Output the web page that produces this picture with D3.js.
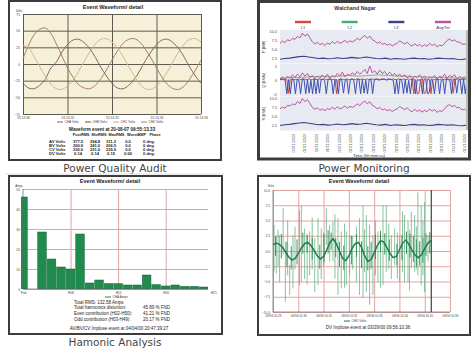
<!DOCTYPE html>
<html>
<head>
<meta charset="utf-8">
<script src="https://cdn.jsdelivr.net/npm/d3@7"></script>
<style>
  body { margin: 0; background: #fff; }
  svg { display: block; font-family: "Liberation Sans", Arial, sans-serif; }
  .cap { font-family: "DejaVu Sans", sans-serif; font-size: 10.5px; fill: #454545; }
  .tick text { fill: #444; }
</style>
</head>
<body>
<svg id="chart" width="474" height="351"></svg>
<script>

// ---- panel 1: three phase waveform (volts), 33 samples over 4 grid divisions
var waveA = [8, 28, 44, 52, 54, 46, 30, 12, -6, -20, -31, -36, -37, -32, -22, -9, 6, 20, 31, 37, 38, 33, 22, 9, -6, -20, -31, -37, -38, -33, -22, -9, 6]
var waveB = [-29, -36, -37, -32, -23, -6, 3, 18, 29, 36, 37, 32, 23, 10, -5, -18, -29, -36, -37, -32, -23, -10, 5, 18, 29, 36, 37, 32, 23, 10, -5, -18, -29]
var waveC = [28, 24, 11, -4, -18, -30, -37, -38, -33, -24, -11, 4, 18, 30, 37, 38, 33, 24, 11, -4, -18, -30, -37, -38, -33, -24, -11, 4, 18, 30, 37, 38, 33]
var waveTicks = ["55:13.30", "55:13.31", "55:13.32", "55:13.33", "55:13.34"]
var waveLegend = ["CHA Volts", "CHB Volts", "CHC Volts", "CHD Volts"]
var tableCols = ["PostRMS", "MinRMS", "MaxRMS", "WorstBMP", "Phase"]
var tableRows = ["AV Volts", "BV Volts", "CV Volts", "DV Volts"]
var tableVals = [
  ["377.5", "294.8", "311.2", "0.0", "0 deg."],
  ["200.9", "241.0", "206.5", "0.0", "0 deg."],
  ["230.0", "221.0", "235.9", "0.0", "0 deg."],
  ["0.14", "0.14", "0.15", "0.00", "0 deg."]
]

// ---- panel 2: power monitoring (P, Q, S)
var seriesNames = ["L1", "L2", "L3", "Avg/Tot"]
var pAvg = [6.6, 7.2, 6.8, 7.6, 7.3, 8.0, 7.7, 8.5, 8.1, 9.4, 8.6, 9.2, 8.1, 7.0, 6.4, 6.9, 6.2, 6.6, 6.0, 6.7, 6.3, 7.1, 6.5, 7.2, 6.6, 6.9, 7.4, 6.8, 7.3, 7.0,
  7.4, 8.0, 7.5, 8.3, 8.8, 8.0, 8.6, 7.6, 7.2, 6.6, 7.0, 6.3, 6.6, 6.1, 6.4, 5.9, 6.3, 6.6, 7.3, 6.8, 6.4, 6.9, 6.2, 5.8, 6.5, 5.9, 6.3, 5.7, 6.2, 5.8,
  6.6, 6.0, 6.4, 5.6, 6.1, 5.9, 6.6, 7.4, 7.8, 7.2, 7.6, 6.9, 7.0, 6.3, 6.5, 5.9]
var pL3 = [2.2, 2.4, 2.5, 2.7, 2.9, 3.0, 2.8, 2.6, 2.4, 2.5, 2.3, 2.4, 2.6, 2.4, 2.5, 2.7, 2.5, 2.6, 2.8, 2.6,
  2.4, 2.3, 2.5, 2.2, 2.4, 2.3, 2.2, 2.4, 2.5, 2.3, 2.4, 2.2, 2.3, 2.5, 2.4, 2.3, 2.4, 2.2, 2.1, 2.3]
var sAvg = [7.0, 7.5, 7.2, 8.0, 7.8, 8.4, 8.1, 9.0, 8.5, 9.9, 9.0, 9.6, 8.5, 7.4, 6.9, 7.3, 6.6, 7.0, 6.5, 7.1, 6.8, 7.5, 6.9, 7.6, 7.0, 7.3, 7.8, 7.2, 7.7, 7.4,
  7.8, 8.4, 7.9, 8.7, 9.2, 8.4, 9.0, 8.0, 7.6, 7.0, 7.4, 6.7, 7.0, 6.5, 6.8, 6.3, 6.7, 7.0, 7.7, 7.2, 6.8, 7.3, 6.6, 6.2, 6.9, 6.3, 6.7, 6.1, 6.6, 6.2,
  7.0, 6.4, 6.8, 6.0, 6.5, 6.3, 7.0, 7.8, 8.2, 7.6, 8.0, 7.3, 7.4, 6.7, 6.9, 6.3]
var sL3 = [2.4, 2.6, 2.7, 2.9, 3.1, 3.2, 3.0, 2.8, 2.6, 2.7, 2.5, 2.6, 2.8, 2.6, 2.7, 2.9, 2.7, 2.8, 3.0, 2.8,
  2.6, 2.5, 2.7, 2.4, 2.6, 2.5, 2.4, 2.6, 2.7, 2.5, 2.6, 2.4, 2.5, 2.7, 2.6, 2.5, 2.6, 2.4, 2.3, 2.5]
var qAvg = [0.2, 0.5, 0.1, 0.6, 0.3, 0.8, 0.4, 0.9, 0.5, 1.1, 0.6, 1.0, 0.4, 0.7, 0.2, 0.6, 0.3, 0.8, 0.4, 0.9, 0.3, 0.7, 0.5, 1.0, 0.6, 1.2, 0.5, 0.9, 0.7, 1.1,
  0.8, 1.3, 0.9, 1.2, 1.6, 1.0, 2.1, 1.1, 1.4, 0.9, 1.5, 1.0, 1.3, 0.8, 1.2, 0.7, 1.0, 0.6, 0.9, 0.5, 0.8, 0.3, 0.7, 0.2, 0.6, 0.4, 0.8, 0.3, 0.6, 0.1,
  0.5, 0.3, 0.7, 0.2, 0.6, 0.4, 0.9, 0.3, 0.7, 0.5, 0.8, 0.2, 0.6, 0.3, 0.5, 0.2]
var qL2 = [0.3, 0.4, 0.4, 0.5, 0.6, 0.5, 0.6, 0.7, 0.6, 0.7, 0.8, 0.7, 0.6, 0.6, 0.5, 0.5, 0.4, 0.4, 0.3, 0.3]
var qL3 = [
  0.1, 0.2, 0.1, 0.0, -2.0, 0.1, -2.0, 0.2, 0.1, -2.0,
  0.1, 0.0, -2.0, 0.2, 0.1, -2.0, 0.1, -1.9, 0.0, -2.0,
  0.2, -2.0, 0.1, -1.9, 0.1, 0.2, 0.0, -2.0, 0.1, 0.2,
  0.1, -2.0, 0.0, 0.1, -2.0, 0.2, 0.1, -1.9, 0.0, 0.1,
  -2.0, 0.1, 0.2, 0.0, -2.0, 0.1, 0.2, -2.0, 0.1, -1.9,
  0.0, -2.0, 0.1, 0.2, -2.0, 0.1, 0.2, 0.1, 0.0, 0.2,
  0.1, 0.2, 0.0, 0.1, 0.2, 0.1, 0.0, -2.0, 0.1, -2.0,
  0.2, 0.0, -2.0, 0.1, -1.9, 0.0, -2.0, 0.1, 0.2, -2.0,
  0.1, 0.0, 0.1, -2.0, 0.2, 0.1, -2.0, -1.8, 0.1, 0.0,
  -2.0, 0.1, 0.2, -2.0, 0.0, 0.1, -2.0, 0.2, 0.1, 0.0,
  -2.0, 0.1, 0.2, -1.9, 0.0, 0.1, -2.0, 0.2, -2.0, 0.1]
var qL1 = [
  0.1, 0.1, 0.2, 0.1, 0.1, -1.9, 0.1, 0.2, 0.1, 0.1,
  0.1, 0.2, 0.1, 0.1, 0.2, 0.1, 0.1, 0.2, 0.1, 0.1,
  0.2, 0.1, 0.1, 0.2, 0.1, 0.1, 0.2, 0.1, 0.1, 0.2,
  0.1, 0.1, 0.2, -2.0, 0.1, 0.1, 0.2, 0.1, 0.1, 0.2,
  0.1, 0.1, 0.2, 0.1, 0.1, 0.2, 0.1, 0.1, 0.2, 0.1,
  0.1, 0.2, 0.1, 0.1, 0.2, 0.1, 0.1, 0.2, 0.1, 0.1,
  0.2, 0.1, 0.1, 0.2, 0.1, 0.1, 0.2, 0.1, 0.1, 0.2,
  0.1, 0.1, 0.2, 0.1, 0.1, 0.2, 0.1, 0.1, -2.0, 0.1,
  -2.0, -1.9, 0.1, 0.2, -2.0, -1.8, 0.1, 0.2, -2.0, 0.1,
  0.1, 0.2, 0.1, 0.1, 0.2, 0.1, 0.1, 0.2, 0.1, 0.1,
  0.2, -1.9, 0.1, 0.1, 0.2, 0.1, 0.1, 0.2, 0.1, 0.1]
var timeTicks = ["02/22 10:00", "02/22 10:30", "02/22 11:00", "02/22 11:30", "02/22 12:00", "02/22 12:30", "02/22 13:00", "02/22 13:30",
  "02/22 14:00", "02/22 14:30", "02/22 15:00", "02/22 15:30", "02/22 16:00", "02/22 16:30", "02/22 17:00", "02/22 17:30"]

// ---- panel 3: harmonic spectrum (amps), H1..H20
var harmonics = d3.range(1, 21)
var harmAmps = [46, 0, 28.5, 15, 11, 10, 27.5, 3, 4.5, 2.7, 2.7, 2, 2, 7, 2.2, 1.5, 2, 1.3, 1.3, 1]
var harmTicks = [1, 6, 11, 16, 21]
var harmTickLabels = ["Fnd", "H06", "H11", "H16", "H21"]
var harmText = [
  ["Total RMS: 132.58 Amps", ""],
  ["Total harmonics distortion:", "45.89 % FND"],
  ["Even contribution (H02-H50):", "41.21 % FND"],
  ["Odd contribution (H03-H49):", "20.17 % FND"]
]

// ---- panel 4: DV impulse waveform (volts), base trace every 1/8 division + impulse spikes
var dvBase = [1.0, 1.3, 1.1, 0.6, -0.2, -1.0, -1.5, -1.2, -0.4, 0.5, 1.2, 1.4, 0.9, 0.1, -0.8, -1.3, -0.9, 0.2, 1.4, 2.0,
  1.2, 0.0, -1.2, -1.6, -0.8, 0.4, 1.2, 1.4, 0.6, -0.8, -1.7, -1.4, -0.3, 0.9, 1.7, 1.5, 0.6, -0.4, -1.1, -0.9,
  0.2, 1.3, 1.8, 1.1, 0.1, -0.7, -1.1, -0.6, 0.4, 1.3, 1.7]
var spikeT = [0.04, 0.13, 0.26, 0.40, 0.49, 0.66, 0.79, 1.05, 1.12, 1.25, 1.45, 1.65, 1.78, 1.91, 2.11, 2.24, 2.37, 2.57, 2.70, 2.90,
  3.03, 3.42, 3.56, 3.69, 3.82, 3.95, 4.15, 4.35, 4.48, 4.68, 4.81, 5.01, 5.20, 5.34, 5.47, 5.60, 5.73, 5.86, 5.99, 6.13,
  0.20, 0.58, 0.87, 1.35, 1.55, 2.00, 2.45, 2.83, 3.15, 3.30, 3.62, 4.05, 4.25, 4.58, 4.92, 5.12, 5.40, 5.67, 5.93]
var spikeHi = [4.3, 2.6, 2.6, 7.0, 1.5, -2.3, 2.6, 6.7, 7.5, 3.7, 3.2, 2.1, 5.4, 3.7, 7.0, 4.3, 4.8, 5.4, 3.2, 3.2,
  2.6, 5.4, 7.5, 5.9, 4.3, 2.6, 3.2, 7.5, 7.5, 2.6, 3.7, 2.6, 5.9, 4.8, 6.4, 5.9, 9.6, 7.5, 8.0, 2.6,
  3.5, 5.0, 4.0, 2.8, 5.5, 3.0, 6.0, 4.5, 2.5, 4.0, 3.5, 5.0, 3.0, 4.5, 3.0, 6.5, 3.5, 4.0, 5.0]
var spikeLo = [-3.4, -3.7, -5.1, -0.6, -8.3, -7.2, -6.1, -5.6, -5.1, -4.6, -4.0, -6.7, -5.6, -4.6, 1.0, -1.7, -1.7, -7.2, -6.1, -5.6,
  -4.0, -7.2, -7.7, -6.7, -8.8, -7.2, -5.1, -5.6, -3.4, -4.6, -2.3, -5.1, -5.1, -5.1, -2.8, -3.4, -4.0, -5.6, -6.7, -1.7,
  -2.5, -4.0, -3.0, -5.5, -3.0, -2.5, -4.5, -6.0, -3.0, -5.0, -3.5, -4.0, -6.0, -3.0, -4.5, -3.5, -6.5, -3.0, -4.0]
// short dark jitter around the base trace
var jitT = [0.10, 0.33, 0.55, 0.72, 0.95, 1.18, 1.35, 1.55, 1.85, 2.02, 2.18, 2.30, 2.48, 2.63, 2.80, 3.10, 3.30, 3.50, 3.75, 3.88,
  4.05, 4.25, 4.42, 4.60, 4.90, 5.10, 5.28, 5.42, 5.55, 5.67, 5.80, 5.93, 6.05, 6.20]
var jitHi = [2.4, 2.8, 1.5, 0.8, 1.9, 3.0, 2.6, 2.2, 1.0, 2.8, 3.4, 3.0, 2.1, 1.5, 0.9, 2.5, 2.8, 1.6, 0.8, 1.5,
  2.7, 3.3, 2.9, 1.9, 1.2, 2.6, 3.2, 2.8, 2.5, 1.9, 1.6, 2.2, 2.9, 3.1]
var jitLo = [-0.8, -1.2, -2.6, -3.0, -2.2, -0.5, -0.3, -1.4, -2.9, -1.8, -0.4, 0.2, -1.0, -2.6, -3.1, -2.2, -1.0, -2.8, -3.2, -2.9,
  -1.3, -0.2, -0.6, -1.6, -2.4, -1.5, -0.5, -1.0, -1.8, -2.5, -2.4, -1.9, -0.8, -0.4]
var triggerT = 6.26
var dvTicks = ["10.29", "10.30", "10.31", "10.32", "10.33", "10.34", "10.35", "10.36"]

var svg = d3.select("#chart")

function frame(x, y, w, h, sw) {
  svg.append("rect").attr("x", x).attr("y", y).attr("width", w).attr("height", h)
    .attr("fill", "#fff").attr("stroke", "#3c3c3c").attr("stroke-width", sw)
}
function label(x, y, txt, size, opts) {
  opts = opts || {}
  return svg.append("text").attr("x", x).attr("y", y).text(txt)
    .attr("font-size", size).attr("dominant-baseline", "central")
    .attr("text-anchor", opts.anchor || "middle")
    .attr("font-weight", opts.bold ? "bold" : null)
    .attr("fill", opts.fill || "#222")
}
function styleAxis(g, lineColor, fontSize) {
  g.select(".domain").remove()
  g.selectAll(".tick line").attr("stroke", lineColor)
  g.selectAll(".tick text").attr("font-size", fontSize)
}

// ================= PANEL 1: Power Quality Audit =================
frame(9, 1, 212, 159, 2)
label(113, 6.5, "Event Waveform/ detail", 5.5, {bold: true})

var p1 = {l: 23, r: 201, t: 14, b: 114}
var x1 = d3.scaleLinear().domain([0, 4]).range([p1.l, p1.r])
var y1 = d3.scaleLinear().domain([-75, 75]).range([p1.b, p1.t])

svg.append("rect").attr("x", p1.l).attr("y", p1.t).attr("width", p1.r - p1.l).attr("height", p1.b - p1.t)
  .attr("fill", "#f7f0d9")

svg.append("g").attr("transform", `translate(0,${p1.b})`)
  .call(d3.axisBottom(x1).tickValues([0, 1, 2, 3, 4]).tickSize(-(p1.b - p1.t)).tickPadding(2.5)
    .tickFormat((d, i) => waveTicks[i]))
  .call(g => styleAxis(g, "#5f5a50", 3.3))

svg.append("g").attr("transform", `translate(${p1.l},0)`)
  .call(d3.axisLeft(y1).tickValues([-75, -50, -25, 0, 25, 50, 75]).tickSize(-(p1.r - p1.l)).tickPadding(3))
  .call(g => styleAxis(g, "#5f5a50", 3.3))
label(19, 11, "Volts", 3, {fill: "#444"})

var waveColors = ["#a97c6e", "#7e6a5c", "#cbb98f", "#9a9a9a"]
var waveLine = d3.line().x((d, i) => x1(i * 4 / 32)).y(d => y1(d)).curve(d3.curveCatmullRom)
;[waveA, waveB, waveC].forEach((w, i) => {
  svg.append("path").attr("d", waveLine(w)).attr("fill", "none")
    .attr("stroke", waveColors[i]).attr("stroke-width", 1)
})

waveLegend.forEach((name, i) => {
  var lx = 57 + i * 28
  svg.append("line").attr("x1", lx).attr("x2", lx + 6).attr("y1", 122).attr("y2", 122)
    .attr("stroke", waveColors[i]).attr("stroke-width", 1.2)
  label(lx + 7.5, 122, name, 3.2, {anchor: "start", fill: "#444"})
})

label(112, 129.3, "Waveform event at 20-08-07 09:55:13.33", 4.6, {bold: true})
var headX = [81, 99, 116.5, 136.5, 155]
var valX = [78, 95, 111, 128, 149]
tableCols.forEach((c, j) => label(headX[j], 135, c, 3.8, {bold: true}))
tableRows.forEach((r, i) => {
  var ry = 141.3 + i * 3.9
  label(49, ry, r, 4.1, {anchor: "start", bold: true})
  tableVals[i].forEach((v, j) => label(valX[j], ry, v, 4.1, {bold: true}))
})

label(115, 167.5, "Power Quality Audit", 10.5).attr("class", "cap")
svg.append("line").attr("x1", 6).attr("x2", 224).attr("y1", 174).attr("y2", 174).attr("stroke", "#dedede")

// ================= PANEL 2: Power Monitoring =================
frame(258.5, 1.5, 211, 157.5, 3)
label(355, 8, "Walchand Nagar", 5.3, {bold: true, fill: "#333"})

var lineColors = ["#d8463c", "#43ad6f", "#3b3f8c", "#be529f"]
var legendX = d3.scalePoint().domain(seriesNames).range([303, 443])
seriesNames.forEach(n => {
  svg.append("line").attr("x1", legendX(n) - 8).attr("x2", legendX(n) + 8).attr("y1", 22).attr("y2", 22)
    .attr("stroke", lineColors[seriesNames.indexOf(n)]).attr("stroke-width", 2.4)
  label(legendX(n), 27.5, n, 4, {fill: "#333"})
})

var x2 = d3.scaleLinear().domain([0, 1]).range([280, 467])
var sub = [
  {name: "P [kW]", t: 30, b: 63.5, dom: [1, 10.3], ticks: [2.5, 5, 7.5, 10], fmt: d3.format(".1f")},
  {name: "Q [kVAr]", t: 64, b: 96.5, dom: [-2.4, 2.4], ticks: [-2, 0, 2], fmt: d3.format("d")},
  {name: "S [kVA]", t: 97, b: 130.5, dom: [1, 10.3], ticks: [2.5, 5, 7.5, 10], fmt: d3.format(".1f")}
]
sub.forEach(s => {
  s.y = d3.scaleLinear().domain(s.dom).range([s.b, s.t])
  svg.append("rect").attr("x", 280).attr("y", s.t).attr("width", 187).attr("height", s.b - s.t)
    .attr("fill", "#e7eaf0")
  svg.append("g").attr("transform", "translate(280,0)")
    .call(d3.axisLeft(s.y).tickValues(s.ticks).tickFormat(s.fmt).tickSize(0).tickPadding(3))
    .call(g => styleAxis(g, "#888", 3.8))
  svg.append("text").attr("transform", `translate(263.5,${(s.t + s.b) / 2}) rotate(-90)`)
    .attr("text-anchor", "middle").attr("dominant-baseline", "central")
    .attr("font-size", 4.2).attr("fill", "#333").text(s.name)
})

function series(arr, yScale, color, width) {
  var ln = d3.line().x((d, i) => x2(i / (arr.length - 1))).y(d => yScale(d))
  svg.append("path").attr("d", ln(arr)).attr("fill", "none")
    .attr("stroke", color).attr("stroke-width", width).attr("stroke-linejoin", "round")
}
series(pL3, sub[0].y, lineColors[2], 1.1)
series(pAvg, sub[0].y, lineColors[3], 1)
series(qL1, sub[1].y, lineColors[0], 1)
series(qL3, sub[1].y, "#3f4fb0", 1)
series(qL2, sub[1].y, "#7fa77a", 0.9)
series(qAvg, sub[1].y, lineColors[3], 1)
series(sL3, sub[2].y, lineColors[2], 1.1)
series(sAvg, sub[2].y, lineColors[3], 1)

// scroll strip at the right edge
svg.append("rect").attr("x", 466).attr("y", 30).attr("width", 2).attr("height", 100).attr("fill", "#bbb")

var xt = d3.scalePoint().domain(timeTicks).range([293, 464])
timeTicks.forEach(t => {
  svg.append("text").attr("transform", `translate(${xt(t)},134) rotate(90)`)
    .attr("font-size", 3.5).attr("fill", "#333").attr("dominant-baseline", "central").text(t)
})
label(369, 155.5, "Time (hh:mm:ss)", 4.3, {fill: "#333"})

label(364, 167.5, "Power Monitoring", 10.5).attr("class", "cap")
svg.append("line").attr("x1", 256).attr("x2", 472).attr("y1", 174).attr("y2", 174).attr("stroke", "#dedede")

// ================= PANEL 3: Harmonic Analysis =================
frame(9, 176, 213, 158, 2)
label(110, 181, "Event Waveform/ detail", 5.5, {bold: true})

var p3 = {l: 23, r: 208, t: 189, b: 289}
var x3 = d3.scaleLinear().domain([1, 20.45]).range([p3.l, p3.r])
var y3 = d3.scaleLinear().domain([0, 50]).range([p3.b, p3.t])

svg.append("g").attr("transform", `translate(${p3.l},0)`)
  .call(d3.axisLeft(y3).tickValues([0, 10, 20, 30, 40, 50]).tickSize(-(p3.r - p3.l)).tickPadding(3))
  .call(g => styleAxis(g, "#e2a3a3", 3.3))
svg.append("g").attr("transform", `translate(0,${p3.b})`)
  .call(d3.axisBottom(x3).tickValues(harmTicks).tickSize(-(p3.b - p3.t)).tickPadding(2.5)
    .tickFormat((d, i) => harmTickLabels[i]))
  .call(g => styleAxis(g, "#e2a3a3", 3.3))
  .call(g => g.selectAll(".tick line").filter(d => d > 20.45 || d == 1).remove())
label(19, 186, "Amps", 3, {fill: "#444"})

svg.append("defs").append("clipPath").attr("id", "clip3")
  .append("rect").attr("x", p3.l - 2).attr("y", p3.t - 5).attr("width", p3.r - p3.l + 2).attr("height", p3.b - p3.t + 5)
svg.append("g").attr("clip-path", "url(#clip3)")
  .selectAll("rect").data(harmonics.filter((h, i) => harmAmps[i] > 0)).enter().append("rect")
  .attr("x", h => x3(h) - 4.3)
  .attr("width", 8.6)
  .attr("y", h => y3(harmAmps[h - 1]))
  .attr("height", h => p3.b - y3(harmAmps[h - 1]))
  .attr("fill", "#1f8b4d").attr("stroke", "#126236").attr("stroke-width", 0.5)

svg.append("line").attr("x1", p3.l).attr("x2", p3.l).attr("y1", p3.t).attr("y2", p3.b).attr("stroke", "#666").attr("stroke-width", 0.7)
svg.append("line").attr("x1", p3.l).attr("x2", p3.r).attr("y1", p3.b).attr("y2", p3.b).attr("stroke", "#666").attr("stroke-width", 0.7)

svg.append("line").attr("x1", 105).attr("x2", 111).attr("y1", 297).attr("y2", 297).attr("stroke", "#1f8b4d").attr("stroke-width", 1)
label(112.5, 297, "CHA Amps", 3.2, {anchor: "start", fill: "#444"})

harmText.forEach((row, i) => {
  var ty = 302.3 + i * 5.6
  label(74, ty, row[0], 4.5, {anchor: "start"})
  if (row[1]) label(143, ty, row[1], 4.5, {anchor: "start"})
})
label(119, 328.3, "AV/BV/CV Impluse event at 04/04/00 20:47:39:27", 4.5)

label(115, 342, "Hamonic Analysis", 10.5).attr("class", "cap")

// ================= PANEL 4: DV impulse =================
frame(258, 176, 212, 159, 2)
label(359, 181, "Event Waveform/ detail", 5.5, {bold: true})

var p4 = {l: 273, r: 450, t: 190, b: 312}
var x4 = d3.scaleLinear().domain([0, 7]).range([p4.l, p4.r])
var y4 = d3.scaleLinear().domain([-10, 10]).range([p4.b, p4.t])

svg.append("g").attr("transform", `translate(${p4.l},0)`)
  .call(d3.axisLeft(y4).tickValues(d3.range(-10, 10.1, 2.5)).tickFormat(d3.format(".1f"))
    .tickSize(-(p4.r - p4.l)).tickPadding(3))
  .call(g => styleAxis(g, "#e2a3a3", 3.2))
svg.append("g").attr("transform", `translate(0,${p4.b})`)
  .call(d3.axisBottom(x4).tickValues(d3.range(0, 8)).tickSize(-(p4.b - p4.t)).tickPadding(2.5)
    .tickFormat((d, i) => "09/56:" + dvTicks[i]))
  .call(g => styleAxis(g, "#e2a3a3", 3))
label(271, 186, "Volts", 3, {fill: "#444"})

svg.append("g").selectAll("line").data(spikeT).enter().append("line")
  .attr("x1", d => x4(d)).attr("x2", d => x4(d))
  .attr("y1", (d, i) => y4(spikeHi[i])).attr("y2", (d, i) => y4(spikeLo[i]))
  .attr("stroke", "#6cb58a").attr("stroke-width", 0.9).attr("opacity", 0.9)

svg.append("g").selectAll("line").data(jitT).enter().append("line")
  .attr("x1", d => x4(d)).attr("x2", d => x4(d))
  .attr("y1", (d, i) => y4(jitHi[i])).attr("y2", (d, i) => y4(jitLo[i]))
  .attr("stroke", "#2c8a52").attr("stroke-width", 0.9)

var dvLine = d3.line().x((d, i) => x4(i * 0.125)).y(d => y4(d))
svg.append("path").attr("d", dvLine(dvBase)).attr("fill", "none")
  .attr("stroke", "#1d7d45").attr("stroke-width", 1.5)

svg.append("line").attr("x1", x4(triggerT)).attr("x2", x4(triggerT)).attr("y1", p4.t).attr("y2", p4.b)
  .attr("stroke", "#2d4d38").attr("stroke-width", 1.2)

svg.append("line").attr("x1", p4.l).attr("x2", p4.l).attr("y1", p4.t).attr("y2", p4.b).attr("stroke", "#666").attr("stroke-width", 0.7)
svg.append("line").attr("x1", p4.l).attr("x2", p4.r).attr("y1", p4.b).attr("y2", p4.b).attr("stroke", "#666").attr("stroke-width", 0.7)

svg.append("line").attr("x1", 344).attr("x2", 350).attr("y1", 321).attr("y2", 321).attr("stroke", "#1d7d45").attr("stroke-width", 1)
label(351.5, 321, "CHD Volts", 3.2, {anchor: "start", fill: "#444"})
label(368, 327.5, "DV Impluse event at 03/29/00 09:56:10.36", 4.5)

</script>
</body>
</html>
